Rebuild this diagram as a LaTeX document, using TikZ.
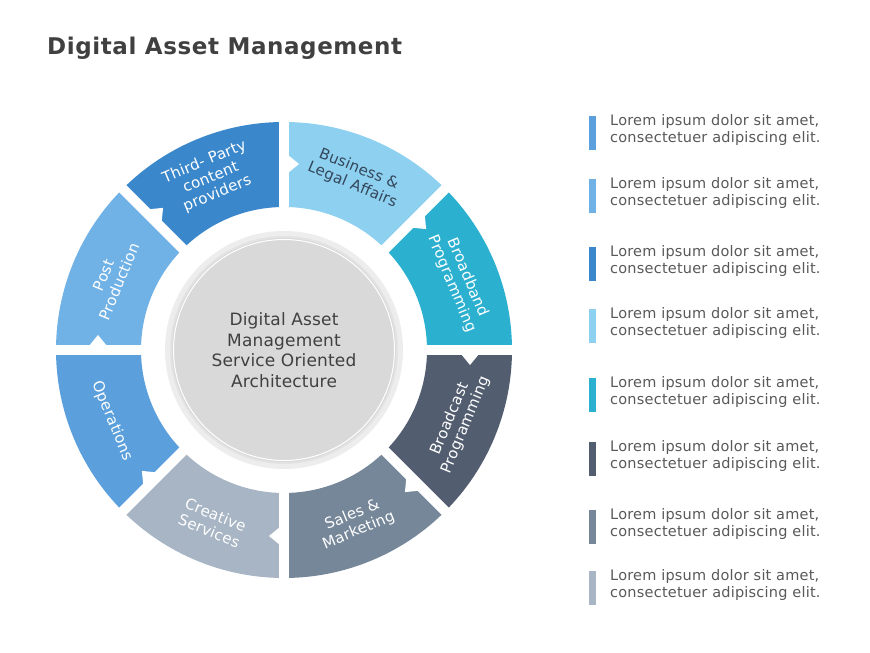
\documentclass[tikz,border=0pt]{standalone}
\usepackage{fontspec}
\setmainfont{DejaVu Sans}
\usetikzlibrary{calc}
\definecolor{cthird}{HTML}{3A87CB}
\definecolor{cbiz}{HTML}{8DD0F0}
\definecolor{cbband}{HTML}{2BB0D0}
\definecolor{cbcast}{HTML}{525E70}
\definecolor{csales}{HTML}{768799}
\definecolor{ccreat}{HTML}{A7B5C4}
\definecolor{cops}{HTML}{5BA0DC}
\definecolor{cpost}{HTML}{70B1E6}
\definecolor{ctitle}{HTML}{404040}
\definecolor{ctext}{HTML}{595959}
\definecolor{cbizt}{HTML}{34465A}
\begin{document}
\begin{tikzpicture}[x=1pt,y=1pt,
  seglabel/.style={align=center,text=white,font=\fontsize{15}{17}\selectfont\addfontfeatures{LetterSpace=1.5},inner sep=0pt},
  legtext/.style={anchor=west,align=left,text=ctext,font=\fontsize{14.5}{17}\selectfont\addfontfeatures{LetterSpace=1.5},inner sep=0pt},
  legbar/.style={minimum width=7pt,minimum height=34pt,inner sep=0pt}]
\fill[white] (0,0) rectangle (870,653);
\useasboundingbox (0,0) rectangle (870,653);
% title
\node[anchor=base west,inner sep=0pt,text=ctitle,font=\fontsize{23}{26}\selectfont\bfseries\addfontfeatures{LetterSpace=2.5}] (title) at (47,598) {Digital Asset Management};
% ring
\begin{scope}[shift={(284,303)}]
\foreach \s/\col in {0/cbband,45/cbiz,90/cthird,135/cpost,180/cops,225/ccreat,270/csales,315/cbcast}{
  \pgfmathsetmacro{\e}{\s+45}
  \fill[\col] (\s:228pt) arc[start angle=\s,end angle=\e,radius=228pt] -- (\e:143pt) arc[start angle=\e,end angle=\s,radius=143pt] -- cycle;
}
\foreach \a in {0,45,...,315}{
  \draw[white,line width=10pt] (0,0) -- (\a:240pt);
  \fill[white,rotate=\a] (177pt,0pt) -- (177pt,-4pt) -- (186pt,-15pt) -- (195pt,-4pt) -- (195pt,0pt) -- cycle;
}
\fill[white] (0,0) circle (140pt);
\fill[black!7] (0,0) circle (119pt);
\fill[black!11] (0,0) circle (114pt);
\fill[black!15] (0,0) circle (112pt);
\draw[white,line width=1pt] (0,0) circle (110.5pt);
\node[align=center,text=ctitle,font=\fontsize{17}{20.5}\selectfont\addfontfeatures{LetterSpace=1}] (hub) at (0,0) {Digital Asset\\Management\\Service Oriented\\Architecture};
\node[seglabel,rotate=22.5] (third) at (113:187pt) {Third- Party\\content\\providers};
\node[seglabel,rotate=-22.5,text=cbizt] (biz) at (67.5:187pt) {Business \&\\Legal Affairs};
\node[seglabel,rotate=-67.5] (bband) at (21.5:189pt) {Broadband\\Programming};
\node[seglabel,rotate=67.5] (bcast) at (-22.5:188pt) {Broadcast\\Programming};
\node[seglabel,rotate=22.5] (sales) at (-67.5:187pt) {Sales \&\\Marketing};
\node[seglabel,rotate=-22.5] (creat) at (-112.5:187pt) {Creative\\Services};
\node[seglabel,rotate=-67.5] (ops) at (-157.5:186pt) {Operations};
\node[seglabel,rotate=67.5] (post) at (157.5:187pt) {Post\\Production};
\end{scope}
% legend
\foreach \y/\col [count=\i] in {520/cops,457/cpost,389/cthird,327/cbiz,258/cbband,194/cbcast,126/csales,65/ccreat}{
  \node[legbar,fill=\col] (bar\i) at (592.5,\y) {};
  \node[legtext] (leg\i) at (610,\y+3) {Lorem ipsum dolor sit amet,\\consectetuer adipiscing elit.};
}
\end{tikzpicture}
\end{document}
